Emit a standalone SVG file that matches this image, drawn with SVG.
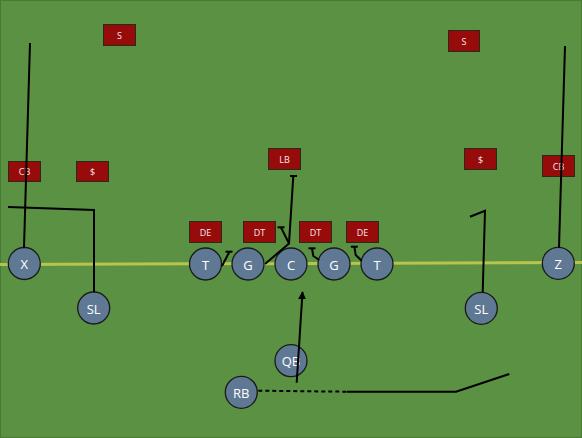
<svg xmlns="http://www.w3.org/2000/svg" width="582" height="438" viewBox="0 0 582 438">
<defs>
<style>
.box rect{fill:#970b0b;stroke:#2a2a1a;stroke-width:1}
.box text{fill:#f4eaea;font-family:"Open Sans","Liberation Sans",sans-serif;font-size:9px;text-anchor:middle;dominant-baseline:central}
.pl circle{fill:#5f7995;stroke:#1a1a1a;stroke-width:1.3}
.pl text{fill:#ffffff;font-family:"Open Sans","Liberation Sans",sans-serif;font-size:13px;text-anchor:middle;dominant-baseline:central}
.rt{fill:none;stroke:#000;stroke-width:2}
</style>
<marker id="ah" viewBox="0 0 10 10" refX="9" refY="5" markerWidth="4" markerHeight="4.5" orient="auto">
<path d="M0,0 L10,5 L0,10 z" fill="#000"/>
</marker>
</defs>
<rect x="0" y="0" width="582" height="438" fill="#5b9142" stroke="#497a35" stroke-width="2"/>
<line x1="0" y1="264.5" x2="582" y2="262.5" stroke="#b9c44d" stroke-width="3"/>
<g id="s-left" class="box"><rect x="103.5" y="24.5" width="32" height="21"/><text x="119.5" y="35">S</text></g>
<g id="s-right" class="box"><rect x="448.5" y="30.5" width="31" height="21"/><text x="464" y="41">S</text></g>
<g id="cb-left" class="box"><rect x="8.5" y="161.5" width="32" height="20"/><text x="24.5" y="171.5">CB</text></g>
<g id="dollar-left" class="box"><rect x="76.5" y="161.5" width="32" height="20"/><text x="92.5" y="171.5">$</text></g>
<g id="lb" class="box"><rect x="268.5" y="148.5" width="32" height="21"/><text x="284.5" y="159">LB</text></g>
<g id="dollar-right" class="box"><rect x="464.5" y="148.5" width="32" height="21"/><text x="480.5" y="159">$</text></g>
<g id="cb-right" class="box"><rect x="542.5" y="155.5" width="32" height="21"/><text x="558.5" y="166">CB</text></g>
<g id="de-left" class="box"><rect x="189.5" y="221.5" width="32" height="21"/><text x="205.5" y="232">DE</text></g>
<g id="dt-left" class="box"><rect x="243.5" y="221.5" width="32" height="21"/><text x="259.5" y="232">DT</text></g>
<g id="dt-right" class="box"><rect x="299.5" y="221.5" width="32" height="21"/><text x="315.5" y="232">DT</text></g>
<g id="de-right" class="box"><rect x="346.5" y="221.5" width="32" height="21"/><text x="362.5" y="232">DE</text></g>
<g id="x" class="pl"><circle cx="24.3" cy="263.5" r="16"/><text x="24.3" y="264">X</text></g>
<g id="sl-left" class="pl"><circle cx="93.7" cy="308" r="16"/><text x="93.7" y="308.5">SL</text></g>
<g id="t-left" class="pl"><circle cx="205.5" cy="264" r="16"/><text x="205.5" y="264.5">T</text></g>
<g id="g-left" class="pl"><circle cx="248" cy="264" r="16"/><text x="248" y="264.5">G</text></g>
<g id="c" class="pl"><circle cx="291" cy="264" r="16"/><text x="291" y="264.5">C</text></g>
<g id="g-right" class="pl"><circle cx="334" cy="264" r="16"/><text x="334" y="264.5">G</text></g>
<g id="t-right" class="pl"><circle cx="377" cy="264" r="16"/><text x="377" y="264.5">T</text></g>
<g id="sl-right" class="pl"><circle cx="481.3" cy="308.3" r="16"/><text x="481.3" y="308.8">SL</text></g>
<g id="z" class="pl"><circle cx="558.3" cy="263.3" r="16"/><text x="558.3" y="263.8">Z</text></g>
<g id="qb" class="pl"><circle cx="291" cy="360.7" r="16"/><text x="291" y="361.2">QB</text></g>
<g id="rb" class="pl"><circle cx="241.3" cy="392.3" r="16"/><text x="241.3" y="392.8">RB</text></g>
<g id="connectors">
<polyline class="rt" points="30,43 24,247.5"/>
<polyline class="rt" points="94,292 94,210 8,207"/>
<polyline class="rt" points="222,266 229.3,252"/>
<line class="rt" x1="225.5" y1="251.7" x2="232.5" y2="251.7"/>
<polyline class="rt" points="265,264 289,243.5 293.3,176"/>
<line class="rt" x1="290" y1="176" x2="297" y2="176"/>
<polyline class="rt" points="289,243.5 281,227.5"/>
<line class="rt" x1="277.5" y1="227.3" x2="284.5" y2="227.3"/>
<polyline class="rt" points="319.3,260 313.3,256 312,248.5"/>
<line class="rt" x1="308.5" y1="248.3" x2="315.5" y2="248.3"/>
<polyline class="rt" points="361.7,260.7 355.7,255 354.3,246.7"/>
<line class="rt" x1="350.8" y1="246.7" x2="357.8" y2="246.7"/>
<polyline class="rt" points="482.7,292.5 485,210.7 470,216.7"/>
<polyline class="rt" points="559,247.5 565,46"/>
<line class="rt" x1="296.7" y1="382.7" x2="302.5" y2="292" marker-end="url(#ah)"/>
<line x1="258.3" y1="390.7" x2="346.7" y2="391.7" stroke="#000" stroke-width="2" stroke-dasharray="4,3"/>
<polyline class="rt" points="346.7,391.7 456,391.7 509.3,374"/>
</g>
</svg>
